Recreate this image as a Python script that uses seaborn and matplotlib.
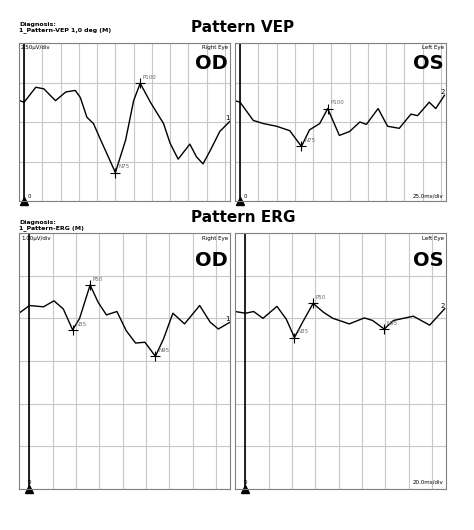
import numpy as np
import pandas as pd
import seaborn as sns
import matplotlib
matplotlib.use("Agg")
import matplotlib.pyplot as plt

# VEP (ms, uV)
vep_od_t = [-6, 0, 16, 27, 43, 57, 70, 77, 86, 95, 105, 125, 139, 150, 159, 173, 191, 200, 211, 227, 236, 245, 255, 268, 282]
vep_od_v = [1.35, 1.25, 2.2, 2.1, 1.35, 1.9, 2.0, 1.55, 0.3, -0.1, -1.15, -3.2, -1.15, 1.35, 2.45, 1.25, -0.1, -1.35, -2.35, -1.4, -2.2, -2.65, -1.8, -0.6, 0.05]
vep_os_t = [-7, 0, 18, 32, 50, 68, 84, 95, 109, 120, 127, 136, 150, 164, 173, 189, 202, 218, 234, 243, 259, 268, 280]
vep_os_v = [1.35, 1.25, 0.1, -0.1, -0.27, -0.55, -1.55, -0.5, -0.1, 0.85, 0.1, -0.85, -0.6, 0, -0.15, 0.85, -0.27, -0.4, 0.5, 0.4, 1.25, 0.85, 1.7]
vep_od_peaks = {"N75": (125, -3.2), "P100": (159, 2.45)}
vep_os_peaks = {"N75": (84, -1.55), "P100": (120, 0.85)}

# PERG (ms, uV)
erg_od_t = [-9, 0, 12, 21, 29, 37, 43, 52, 59, 66, 75, 83, 91, 99, 108, 115, 123, 133, 146, 155, 162, 172]
erg_od_v = [0.12, 0.3, 0.27, 0.41, 0.22, -0.27, 0, 0.78, 0.37, 0.08, 0.16, -0.29, -0.58, -0.56, -0.89, -0.48, 0.12, -0.13, 0.3, -0.09, -0.25, -0.09]
erg_os_t = [-9, 0, 7, 15, 27, 35, 42, 49, 58, 67, 75, 89, 102, 109, 119, 127, 144, 158, 171]
erg_os_v = [0.16, 0.12, 0.16, 0, 0.28, -0.02, -0.45, -0.09, 0.35, 0.14, 0, -0.13, 0.01, -0.05, -0.25, -0.05, 0.05, -0.16, 0.23]
erg_od_peaks = {"N35": (37, -0.27), "P50": (52, 0.78), "N95": (108, -0.89)}
erg_os_peaks = {"N35": (42, -0.45), "P50": (58, 0.35), "N95": (119, -0.25)}

W, H = 474, 530
sns.set_style("white")
plt.rcParams["text.color"] = "black"
fig = plt.figure(figsize=(W / 100, H / 100), dpi=100)


def panel(x0, y0, w, h, t, v, peaks, xlim, xstep, ylim, ystep, eye, code, tag,
          scale=None, tscale=None):
    ax = fig.add_axes([x0 / W, 1 - (y0 + h) / H, w / W, h / H])
    df = pd.DataFrame({"t": t, "v": v})
    sns.lineplot(data=df, x="t", y="v", ax=ax, color="black", lw=1.0)
    ax.set_xlim(*xlim)
    ax.set_ylim(*ylim)
    ax.set_xticks(np.arange(0, xlim[1], xstep))
    ax.set_yticks(np.arange(ylim[0], ylim[1] + 0.01, ystep))
    ax.grid(True, color="#c8c8c8", lw=0.8)
    ax.tick_params(length=0, labelbottom=False, labelleft=False)
    ax.set_xlabel("")
    ax.set_ylabel("")
    for s in ax.spines.values():
        s.set_color("#808080")
        s.set_linewidth(0.8)
    ax.axvline(0, color="black", lw=1.2)
    ax.plot([0], [ylim[0]], marker="^", color="black", ms=6, clip_on=False)
    ax.text(0.04, 0.02, "0", transform=ax.transAxes, fontsize=4, color="black")
    for name, (pt, pv) in peaks.items():
        ax.plot([pt], [pv], marker="+", color="black", ms=7, mew=0.8)
        ax.annotate(name, (pt, pv), xytext=(2, 3), textcoords="offset points",
                    fontsize=4, color="#666666")
    ax.text(t[-1], v[-1], tag, fontsize=5, ha="right", va="bottom", color="black")
    ax.text(0.99, 0.99, eye, transform=ax.transAxes, fontsize=4, ha="right", va="top",
            color="black")
    ax.text(0.99, 0.93, code, transform=ax.transAxes, fontsize=14, weight="bold",
            ha="right", va="top", color="black")
    if scale:
        ax.text(0.01, 0.99, scale, transform=ax.transAxes, fontsize=4, va="top", color="black")
    if tscale:
        ax.text(0.99, 0.02, tscale, transform=ax.transAxes, fontsize=4, ha="right", color="black")
    return ax


# Pattern VEP
fig.text(243 / W, 1 - 27 / H, "Pattern VEP", ha="center", va="center", fontsize=11,
         weight="bold", color="black")
fig.text(19 / W, 1 - 33 / H, "Diagnosis:\n1_Pattern-VEP 1,0 deg (M)", fontsize=4.5,
         weight="bold", va="bottom", linespacing=1.1, color="black")
panel(19, 43, 211, 158, vep_od_t, vep_od_v, vep_od_peaks, (-7, 282), 25, (-5, 5), 2.5,
      "Right Eye", "OD", "1", scale="2.50\u00b5V/div")
panel(235, 43, 211, 158, vep_os_t, vep_os_v, vep_os_peaks, (-7, 282), 25, (-5, 5), 2.5,
      "Left Eye", "OS", "2", tscale="25.0ms/div")

# Pattern ERG
fig.text(243 / W, 1 - 217 / H, "Pattern ERG", ha="center", va="center", fontsize=11,
         weight="bold", color="black")
fig.text(19 / W, 1 - 231 / H, "Diagnosis:\n1_Pattern-ERG (M)", fontsize=4.5,
         weight="bold", va="bottom", linespacing=1.1, color="black")
panel(19, 233, 211, 256, erg_od_t, erg_od_v, erg_od_peaks, (-9, 172), 20, (-4, 2), 1,
      "Right Eye", "OD", "1", scale="1.00\u00b5V/div")
panel(235, 233, 211, 256, erg_os_t, erg_os_v, erg_os_peaks, (-9, 172), 20, (-4, 2), 1,
      "Left Eye", "OS", "2", tscale="20.0ms/div")

fig.savefig("out.png", dpi=100)
